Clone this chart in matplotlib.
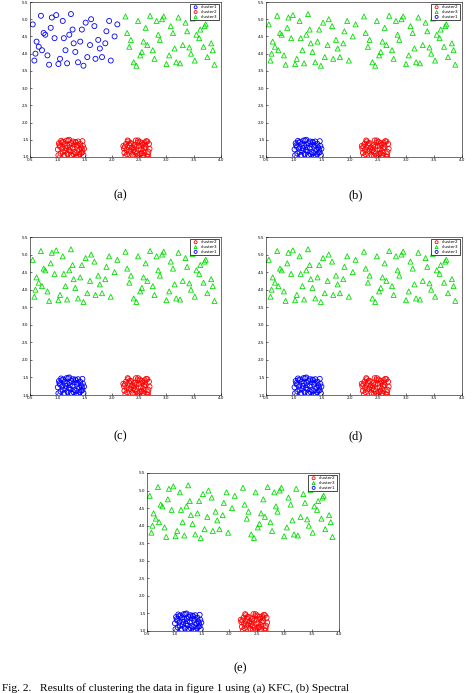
import numpy as np
import matplotlib.pyplot as plt

# top band (x, y)
top_x = [0.55, 0.62, 0.70, 0.58, 0.75, 0.82, 0.66, 0.90, 0.95, 1.02, 0.88, 1.10, 1.15, 1.05, 1.22,
         1.30, 1.25, 1.38, 1.45, 1.33, 1.52, 1.60, 1.48, 1.68, 1.75, 1.62, 1.82, 1.90, 1.78, 1.98,
         2.05, 0.60, 0.78, 0.98, 1.18, 1.42, 1.70, 1.95, 0.72, 1.28, 1.55, 1.88, 2.10, 0.85, 1.12,
         2.25, 2.32, 2.40, 2.28, 2.48, 2.55, 2.45, 2.62, 2.70, 2.58, 2.78, 2.85, 2.75, 2.92, 3.00,
         2.88, 3.08, 3.15, 3.05, 3.22, 3.30, 3.18, 3.38, 3.45, 3.35, 3.52, 3.60, 3.48, 3.68, 3.75,
         3.62, 3.82, 3.88, 3.72, 2.35, 2.65, 2.95, 3.25, 3.55, 3.85, 2.52, 2.82, 3.12, 3.42, 3.70]
top_y = [4.85, 4.35, 5.10, 3.80, 4.60, 3.95, 4.20, 5.05, 4.45, 3.70, 4.75, 4.95, 4.10, 3.85, 4.55,
         4.30, 5.15, 3.75, 4.70, 4.05, 4.90, 4.25, 3.65, 4.80, 4.40, 5.00, 3.90, 4.65, 4.15, 3.80,
         4.50, 4.00, 4.55, 5.12, 3.72, 4.35, 3.85, 4.95, 4.10, 4.70, 3.90, 4.30, 4.85, 3.68, 4.45,
         5.08, 4.20, 3.75, 4.60, 4.95, 4.05, 3.65, 4.75, 5.10, 4.35, 3.85, 4.55, 4.10, 5.00, 3.70,
         4.40, 4.80, 4.15, 3.95, 5.05, 4.25, 3.75, 4.65, 4.00, 4.90, 3.80, 4.45, 5.02, 4.20, 3.90,
         4.70, 4.30, 3.68, 4.85, 4.40, 4.25, 5.08, 3.72, 4.55, 4.10, 3.95, 4.95, 4.60, 4.18, 4.80]

# bottom-left block
bl_x = [1.02, 1.08, 1.15, 1.22, 1.30, 1.38, 1.45, 1.05, 1.12, 1.20, 1.28, 1.35, 1.42, 1.48,
        1.03, 1.10, 1.18, 1.25, 1.33, 1.40, 1.47, 1.06, 1.14, 1.23, 1.31, 1.39, 1.46, 1.09,
        1.17, 1.26, 1.36, 1.44, 1.01, 1.13, 1.21, 1.29, 1.37, 1.43, 1.07, 1.19, 1.27, 1.34,
        1.04, 1.16, 1.24, 1.32, 1.41, 1.49, 1.11, 1.22, 1.35, 1.46]
bl_y = [1.05, 1.42, 1.18, 1.35, 1.08, 1.45, 1.22, 1.30, 1.02, 1.48, 1.25, 1.12, 1.38, 1.05,
        1.40, 1.15, 1.33, 1.06, 1.44, 1.20, 1.32, 1.10, 1.38, 1.28, 1.15, 1.02, 1.46, 1.25,
        1.48, 1.40, 1.30, 1.12, 1.22, 1.06, 1.20, 1.45, 1.35, 1.28, 1.47, 1.09, 1.03, 1.42,
        1.34, 1.26, 1.16, 1.36, 1.08, 1.24, 1.44, 1.50, 1.01, 1.14]

# bottom-right block
br_x = [2.22, 2.28, 2.35, 2.42, 2.50, 2.58, 2.65, 2.25, 2.32, 2.40, 2.48, 2.55, 2.62, 2.68,
        2.23, 2.30, 2.38, 2.45, 2.53, 2.60, 2.67, 2.26, 2.34, 2.43, 2.51, 2.59, 2.66, 2.29,
        2.37, 2.46, 2.56, 2.64, 2.21, 2.33, 2.41, 2.49, 2.57, 2.63, 2.27, 2.39, 2.47, 2.54,
        2.24, 2.36, 2.44, 2.52, 2.61, 2.69, 2.31, 2.42, 2.55, 2.66]
br_y = [1.25, 1.08, 1.40, 1.15, 1.32, 1.05, 1.45, 1.02, 1.35, 1.20, 1.48, 1.10, 1.28, 1.38,
        1.12, 1.45, 1.06, 1.30, 1.22, 1.42, 1.15, 1.38, 1.18, 1.03, 1.44, 1.26, 1.08, 1.48,
        1.28, 1.10, 1.35, 1.02, 1.32, 1.40, 1.25, 1.05, 1.18, 1.46, 1.20, 1.02, 1.42, 1.12,
        1.30, 1.22, 1.48, 1.09, 1.36, 1.24, 1.16, 1.34, 1.40, 1.01]

BLUE, RED, GREEN = '#0000ff', '#ff0000', '#00dd00'
top_x = np.array(top_x); top_y = np.array(top_y)

fig = plt.figure(figsize=(4.74, 6.93), dpi=100)
W, H = 474, 693
def axbox(l, t, r, b):
    return fig.add_axes([l / W, 1 - b / H, (r - l) / W, (b - t) / H])

boxes = [(30, 2, 221, 157), (266, 2, 462, 157), (30, 237, 221, 395),
         (266, 237, 462, 395), (147, 473, 339, 631)]
caps = [('(a)', 120, 195), ('(b)', 356, 195), ('(c)', 120, 436),
        ('(d)', 356, 436), ('(e)', 240, 668)]

kw = dict(s=13, linewidths=0.6, facecolors='none')
for i, (box, cap) in enumerate(zip(boxes, caps)):
    ax = axbox(*box)
    if i == 0:
        left = top_x < 2.2
        h1 = ax.scatter(top_x[left], top_y[left], marker='o', edgecolors=BLUE, **kw)
        h2 = ax.scatter(bl_x + br_x, bl_y + br_y, marker='o', edgecolors=RED, **kw)
        h3 = ax.scatter(top_x[~left], top_y[~left], marker='^', edgecolors=GREEN, **kw)
        hs, labs = [h1, h2, h3], ['cluster1', 'cluster2', 'cluster3']
    else:
        h1 = ax.scatter(br_x, br_y, marker='o', edgecolors=RED, **kw)
        h2 = ax.scatter(top_x, top_y, marker='^', edgecolors=GREEN, **kw)
        h3 = ax.scatter(bl_x, bl_y, marker='o', edgecolors=BLUE, **kw)
        hs, labs = [h1, h2, h3], ['cluster2', 'cluster3', 'cluster1']
    ax.set_xlim(0.5, 4)
    ax.set_ylim(1, 5.5)
    ax.set_xticks([0.5, 1, 1.5, 2, 2.5, 3, 3.5, 4])
    ax.set_yticks([1, 1.5, 2, 2.5, 3, 3.5, 4, 4.5, 5, 5.5])
    ax.tick_params(labelsize=3, length=1.5, width=0.4, pad=1, direction='in')
    for sp in ax.spines.values():
        sp.set_linewidth(0.4)
    leg = ax.legend(hs, labs, loc='upper right', fontsize=3, markerscale=0.6,
                    handletextpad=0.3, borderpad=0.3, labelspacing=0.2,
                    fancybox=False, framealpha=1, edgecolor='black')
    leg.get_frame().set_linewidth(0.5)
    fig.text(cap[1] / W, 1 - cap[2] / H, cap[0], ha='center', va='center',
             fontsize=9, family='Liberation Serif')

fig.text(2 / W, 1 - 688 / H, 'Fig. 2.   Results of clustering the data in figure 1 using (a) KFC, (b) Spectral',
         ha='left', va='center', fontsize=8.2, family='Liberation Serif')
fig.savefig('out.png', dpi=100)
